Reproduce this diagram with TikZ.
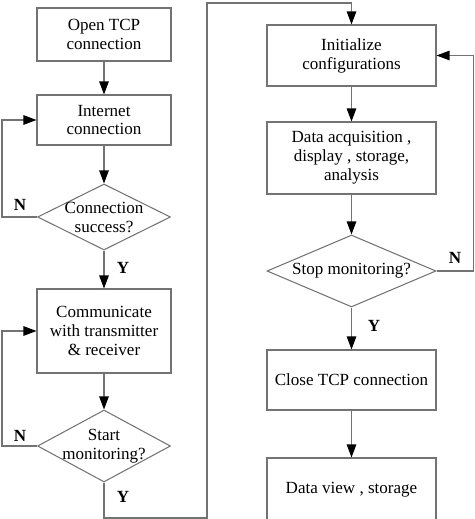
\documentclass[tikz,border=0pt]{standalone}
\usepackage{fontspec}
\setmainfont{Liberation Serif}
\usepackage{tikz}
\usetikzlibrary{shapes.geometric, arrows.meta}
\tikzset{>={Triangle[length=0.26cm,width=0.19cm,color=black]}}

\begin{document}
\begin{tikzpicture}[x=0.02cm, y=-0.02cm,
    font=\fontsize{9.7}{10.8}\selectfont,
    box/.style={draw=black!55, line width=0.6pt, rectangle, align=center, inner sep=0pt},
    decision/.style={draw=black!55, line width=0.6pt, diamond, inner sep=0pt},
    line/.style={draw=black!55, line width=0.6pt, ->},
    yn/.style={font=\fontsize{9.7}{10.8}\selectfont\bfseries}]

\useasboundingbox (0,0) rectangle (474,519);

% left column
\node[box, minimum width=2.68cm, minimum height=1.06cm] (open) at (104,34.5) {Open TCP\\connection};
\node[box, minimum width=2.68cm, minimum height=1.0cm] (inet) at (104,120) {Internet\\connection};
\node[decision, minimum width=2.66cm, minimum height=1.32cm,
    label={[align=center]center:Connection\\success?}] (succ) at (104,217) {};
\node[box, minimum width=2.68cm, minimum height=1.68cm] (comm) at (104,331) {Communicate\\with transmitter\\\& receiver};
\node[decision, minimum width=2.66cm, minimum height=1.44cm,
    label={[align=center]center:Start\\monitoring?}] (start) at (104,446) {};

% right column
\node[box, minimum width=3.38cm, minimum height=1.22cm] (init) at (351.5,55.5) {Initialize\\configurations};
\node[box, minimum width=3.38cm, minimum height=1.44cm] (acq) at (351.5,158) {Data acquisition ,\\display , storage,\\analysis};
\node[decision, minimum width=3.38cm, minimum height=1.44cm,
    label={center:Stop monitoring?}] (stop) at (351.5,271) {};
\node[box, minimum width=3.38cm, minimum height=1.2cm] (close) at (351.5,380) {Close TCP connection};
\node[box, minimum width=3.38cm, minimum height=1.28cm] (view) at (351.5,490) {Data view , storage};

\coordinate (turnA) at (207,518);
\coordinate (turnB) at (207,3);

\draw[line] (open) -- (inet);
\draw[line] (inet) -- (succ);
\draw[line] (succ.west) -- ++(-35,0) |- (inet.west);
\node[yn] (n1) at (20,205) {N};
\draw[line] (succ) -- (comm);
\node[yn] (y1) at (123,268) {Y};
\draw[line] (comm) -- (start);
\draw[line] (start.west) -- ++(-35,0) |- (comm.west);
\node[yn] (n2) at (20,436) {N};
\draw[line] (start.south) |- (turnA) -- (turnB) -| (init.north);
\node[yn] (y2) at (123,497) {Y};

\draw[line] (init) -- (acq);
\draw[line] (acq) -- (stop);
\draw[line] (stop.east) -- ++(37,0) |- (init.east);
\node[yn] (n3) at (455,258) {N};
\draw[line] (stop) -- (close);
\node[yn] (y3) at (374,326) {Y};
\draw[line] (close) -- (view);

\end{tikzpicture}
\end{document}
